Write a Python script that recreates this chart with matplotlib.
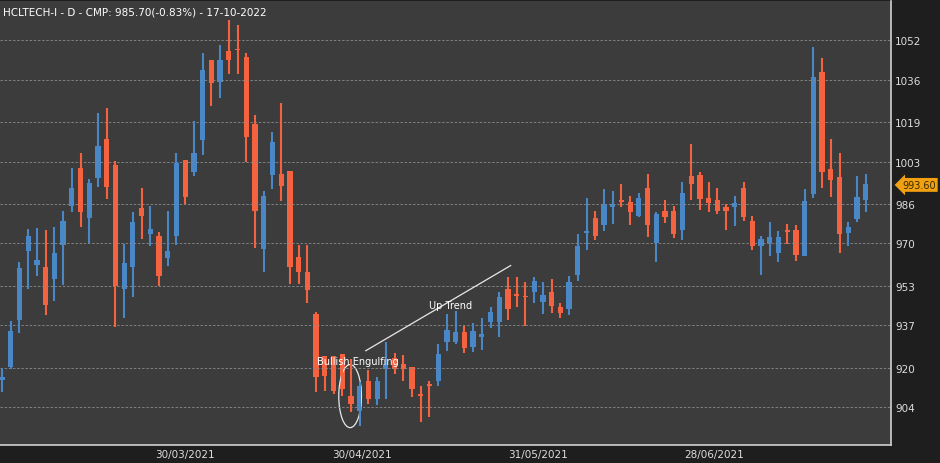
import matplotlib
matplotlib.use("Agg")
import matplotlib.pyplot as plt
from matplotlib.patches import Ellipse, Rectangle

opens = [915.0,920.1,939.3,967.1,961.3,960.4,955.7,969.4,985.2,1000.3,980.3,996.2,1012.1,1001.6,951.7,960.7,984.3,973.8,972.9,964.1,
         973.1,1003.8,998.9,1011.8,1043.9,1034.9,1047.7,1048.4,1045.0,1018.1,967.8,997.6,998.0,999.1,964.4,958.4,941.6,924.5,924.5,925.5,
         908.7,902.6,914.7,907.3,919.5,923.7,921.4,920.1,909.4,913.4,914.7,930.2,930.2,934.2,928.2,932.2,938.2,938.2,951.7,949.6,
         949.0,950.6,946.6,950.3,944.3,943.6,957.3,974.2,980.3,977.4,984.6,987.7,986.8,981.2,992.2,970.2,983.0,983.0,975.6,997.1,
         997.7,988.2,987.5,984.6,984.6,992.3,978.9,969.1,970.2,966.2,975.4,975.6,965.1,989.9,1039.0,1000.0,996.7,974.2,979.9,987.5]
closes = [916.2,934.9,960.0,972.9,963.5,945.3,966.0,979.2,992.2,982.5,994.2,1009.1,992.6,953.0,962.1,978.8,981.2,975.8,957.0,966.8,
          1002.4,988.9,1006.3,1039.9,1034.5,1043.9,1044.1,1048.0,1012.8,983.2,989.3,1010.7,993.3,960.4,958.4,951.4,916.1,916.5,910.7,911.4,
          905.3,912.7,907.3,914.7,921.3,919.4,919.4,911.4,908.7,912.4,925.5,935.3,934.2,927.8,934.9,933.5,942.5,948.3,943.6,949.0,
          948.3,955.0,949.3,944.7,942.0,954.6,969.1,975.2,972.9,985.5,985.9,986.6,982.5,988.2,977.4,981.9,980.5,973.8,990.3,994.0,
          987.9,986.3,983.2,983.2,986.3,980.5,969.1,971.8,972.5,972.5,974.8,965.4,987.2,1037.2,998.9,995.6,973.8,976.5,988.6,994.0]
highs = [920.0,938.9,962.4,975.8,976.1,975.4,976.8,983.0,1000.4,1006.5,996.0,1022.4,1024.7,1003.4,969.8,982.5,992.3,985.2,974.5,983.0,
         1006.5,1003.8,1019.5,1046.7,1043.9,1050.1,1060.2,1058.0,1046.7,1021.8,991.0,1015.0,1026.5,999.3,969.4,969.4,942.3,924.5,924.5,925.5,
         923.5,914.1,919.2,916.1,930.4,925.9,925.1,920.1,912.4,914.7,929.5,941.6,942.9,936.9,938.0,939.8,944.3,950.3,956.4,956.4,
         954.3,956.4,954.6,955.7,946.0,957.0,973.8,988.2,983.2,992.0,991.0,994.0,989.0,990.3,998.0,982.5,987.5,985.0,994.6,1010.1,
         998.9,994.6,992.3,985.9,989.0,994.6,980.9,972.9,978.8,975.2,977.8,977.6,992.0,1049.3,1044.6,1012.1,1006.5,978.8,997.3,998.0]
lows = [910.0,919.5,933.9,951.7,957.0,941.2,947.0,953.4,982.5,976.5,970.2,992.9,987.9,936.5,939.8,948.6,971.8,969.1,952.7,961.1,
        969.4,985.9,997.0,1005.6,1025.3,1028.6,1038.3,1038.3,1002.7,968.0,958.6,991.9,987.3,953.7,953.7,946.0,910.3,910.7,909.4,908.7,
        902.0,896.6,905.3,904.9,907.3,917.4,914.7,908.0,898.0,900.0,912.7,926.8,929.5,925.9,926.1,927.2,935.8,932.2,939.3,944.3,
        936.9,946.0,941.6,942.0,939.8,941.2,955.0,967.5,971.5,975.2,977.8,984.6,977.4,980.5,972.5,962.4,978.1,972.1,971.5,987.5,
        983.6,982.5,981.9,975.6,976.9,979.2,967.5,957.3,965.1,962.4,969.8,963.1,965.1,988.2,992.2,988.6,966.2,968.8,978.8,982.5]
date_labels = ["30/03/2021", "30/04/2021", "31/05/2021", "28/06/2021"]
date_pos = [21.0, 41.25, 61.4, 81.65]
yticks = [904, 920, 937, 953, 970, 986, 1003, 1019, 1036, 1052]
last_price = 993.60

UP = "#4a87c7"; DN = "#f4623f"
fig = plt.figure(figsize=(9.4, 4.64), dpi=100, facecolor="#1e1e1e")
ax = fig.add_axes([0.0, 18/464, 891/940, 444/464])
ax.set_facecolor("#3c3c3c")
for i, (o, c, h, l) in enumerate(zip(opens, closes, highs, lows)):
    col = UP if c >= o else DN
    ax.vlines(i, l, h, color=col, lw=1.5)
    ax.add_patch(Rectangle((i - 0.3, min(o, c)), 0.6, max(abs(c - o), 0.5), color=col, lw=0))
ax.set_xlim(-0.23, 101.9)
ax.set_ylim(888.8, 1067.7)
ax.set_yticks(yticks)
ax.yaxis.tick_right()
ax.set_xticks(date_pos)
ax.set_xticklabels(date_labels)
ax.tick_params(colors="#dddddd", labelsize=7.5, length=0, pad=3)
ax.grid(axis="y", color="#8a8a8a", ls=(0, (3, 2)), lw=0.6)
for s in ["top", "left"]:
    ax.spines[s].set_visible(False)
for s in ["bottom", "right"]:
    ax.spines[s].set_color("#d0d0d0"); ax.spines[s].set_linewidth(1.2)
ax.text(0.003, 0.988, "HCLTECH-I - D - CMP: 985.70(-0.83%) - 17-10-2022", transform=ax.transAxes,
        color="white", fontsize=7.5, va="top", ha="left")
ax.annotate(f"{last_price:.2f}", xy=(1.0, last_price), xycoords=("axes fraction", "data"),
            xytext=(8, 0), textcoords="offset points", color="#3a2a00", fontsize=7, va="center", ha="left",
            bbox=dict(boxstyle="larrow,pad=0.2", fc="#f0a010", ec="none"), annotation_clip=False)
ax.add_patch(Ellipse((39.9, 908.5), 2.6, 25.4, fill=False, ec="#e8e8e8", lw=0.9))
ax.plot([41.7, 58.3], [926.8, 961.1], color="#e8e8e8", lw=0.9)
ax.text(40.8, 922.6, "Bullish Engulfing", color="white", fontsize=7, ha="center", va="center")
ax.text(51.4, 945.2, "Up Trend", color="white", fontsize=7, ha="center", va="center")
fig.savefig("out.png", dpi=100, facecolor=fig.get_facecolor())
